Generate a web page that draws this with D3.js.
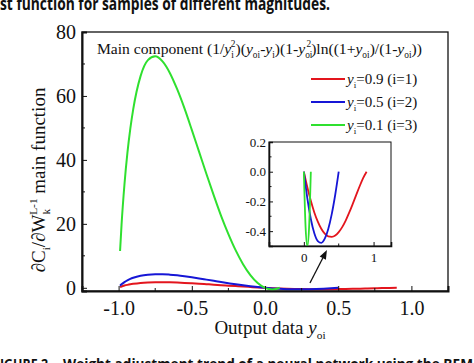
<!DOCTYPE html>
<html>
<head>
<meta charset="UTF-8">
<style>
body { margin: 0; background: #fff; }
svg { display: block; }
text { font-family: "Liberation Serif", "Times New Roman", serif; fill: #111; white-space: pre; }
.cap { font-family: "Open Sans", "Liberation Sans", sans-serif; font-weight: 700; }
</style>
</head>
<body>
<svg width="474" height="363"></svg>
<script src="https://cdn.jsdelivr.net/npm/d3@7/dist/d3.min.js"></script>
<script>
// output data y_oi, negative side (shared by all three curves)
const xNeg = [-0.99, -0.98, -0.96, -0.94, -0.92, -0.9, -0.85, -0.8, -0.75, -0.7, -0.65, -0.6,
  -0.55, -0.5, -0.45, -0.4, -0.35, -0.3, -0.25, -0.2, -0.15, -0.1, -0.05, 0];
const redNeg = [0.25, 0.42, 0.70, 0.92, 1.10, 1.24, 1.51, 1.66, 1.73, 1.75, 1.71, 1.64,
  1.54, 1.42, 1.29, 1.14, 0.99, 0.83, 0.68, 0.53, 0.38, 0.25, 0.12, 0];
const blueNeg = [0.63, 1.08, 1.78, 2.33, 2.77, 3.13, 3.77, 4.11, 4.26, 4.25, 4.12, 3.90,
  3.62, 3.30, 2.94, 2.56, 2.18, 1.80, 1.44, 1.09, 0.77, 0.48, 0.22, 0];
const greenNeg = [11.5, 19.6, 32.3, 42.1, 49.8, 55.9, 66.2, 71.2, 72.4, 70.8, 67.2, 62.1,
  56.1, 49.4, 42.5, 35.6, 28.9, 22.5, 16.8, 11.7, 7.4, 4.0, 1.5, 0];

// positive side, each curve ends at its own y_i
const xRedPos = [0, 0.05, 0.1, 0.15, 0.2, 0.25, 0.3, 0.35, 0.4, 0.45, 0.5, 0.55, 0.6, 0.65, 0.7, 0.75, 0.8, 0.85, 0.9];
const redPos = [0, -0.105, -0.196, -0.274, -0.336, -0.384, -0.417, -0.436, -0.439, -0.430, -0.407, -0.373, -0.329, -0.276, -0.218, -0.158, -0.098, -0.043, 0];
const xBluePos = [0, 0.05, 0.1, 0.15, 0.2, 0.25, 0.3, 0.35, 0.4, 0.45, 0.5];
const bluePos = [0, -0.180, -0.318, -0.414, -0.467, -0.479, -0.451, -0.385, -0.285, -0.155, 0];
const xGreenPos = [0, 0.025, 0.05, 0.075, 0.1];
const greenPos = [0, -0.375, -0.5, -0.375, 0];

const names = ['0.9 (i=1)', '0.5 (i=2)', '0.1 (i=3)'];
const colors = ['#e3151d', '#1616d6', '#2fe02f'];

const xTicks = [-1.0, -0.5, 0.0, 0.5, 1.0];
const xMinor = [-0.75, -0.25, 0.25, 0.75];
const yTicks = [0, 20, 40, 60, 80];
const yMinor = [10, 30, 50, 70];
const inYTicks = [0.2, 0.0, -0.2, -0.4];
const inYMinor = [0.1, -0.1, -0.3];
const inXTicks = [0, 1];
const inXMinor = [0.5];

const svg = d3.select('svg');

const posSeries = [[xRedPos, redPos], [xBluePos, bluePos], [xGreenPos, greenPos]];
const negSeries = [redNeg, blueNeg, greenNeg];
const series = negSeries.map((neg, i) => {
  const pts = xNeg.map((x, j) => ({ x: x, y: neg[j] }));
  posSeries[i][0].forEach((x, j) => { if (j > 0) pts.push({ x: x, y: posSeries[i][1][j] }); });
  return pts;
});
const insetSeries = posSeries.map(p => p[0].map((x, j) => ({ x: x, y: p[1][j] })));

// rich text helper: parts are [string, kind, dx]
function rich(sel, parts, fs) {
  let shift = 0;
  parts.forEach(p => {
    const s = p[0], k = p[1] || 'n';
    let target = 0, size = fs;
    if (k === 'sub') { target = 0.28 * fs; size = 0.6 * fs; }
    if (k === 'sup') { target = -0.42 * fs; size = 0.6 * fs; }
    const t = sel.append('tspan').text(s)
      .attr('dy', (target - shift).toFixed(2))
      .attr('font-size', size);
    if (p[2]) t.attr('dx', p[2]);
    if (k === 'it') t.attr('font-style', 'italic');
    shift = target;
  });
}

// ---- main chart
const x = d3.scaleLinear().domain([-1.25, 1.25]).range([82, 448]);
const y = d3.scaleLinear().domain([-1, 80]).range([291, 32]);

svg.append('rect')
  .attr('x', 82).attr('y', 32).attr('width', 366).attr('height', 259)
  .attr('fill', 'none').attr('stroke', '#111').attr('stroke-width', 1.3);

const line = d3.line().x(d => x(d.x)).y(d => y(d.y)).curve(d3.curveMonotoneX);
series.forEach((s, i) => {
  svg.append('path').datum(s)
    .attr('d', line)
    .attr('fill', 'none')
    .attr('stroke', colors[i])
    .attr('stroke-width', 2);
});

const xAxis = svg.append('g').attr('transform', 'translate(0,291)')
  .call(d3.axisBottom(x).tickValues(xTicks).tickSize(-5).tickPadding(10).tickFormat(d3.format('.1f')));
xAxis.append('g').selectAll('line').data(xMinor).join('line')
  .attr('x1', d => x(d)).attr('x2', d => x(d)).attr('y1', 0).attr('y2', -3).attr('stroke', '#111');
const yAxis = svg.append('g').attr('transform', 'translate(82,0)')
  .call(d3.axisLeft(y).tickValues(yTicks).tickSize(-5).tickPadding(7).tickFormat(d3.format('d')));
yAxis.append('g').selectAll('line').data(yMinor).join('line')
  .attr('y1', d => y(d)).attr('y2', d => y(d)).attr('x1', 0).attr('x2', 3).attr('stroke', '#111');
[xAxis, yAxis].forEach(a => {
  a.select('.domain').attr('stroke', '#111').attr('stroke-width', 2);
  a.selectAll('.tick line').attr('stroke', '#111');
  a.selectAll('text').attr('font-size', 20).attr('font-family', '"Liberation Serif", serif').attr('fill', '#111');
});
xAxis.selectAll('.tick text').text(d => d3.format('.1f')(d).replace('−', '-'));
yAxis.selectAll('.tick text').attr('dx', 1);

// title in frame
const title = svg.append('text').attr('x', 97).attr('y', 54);
rich(title, [['Main component (1/'], ['y', 'it'], ['i', 'sub'], ['2', 'sup', -3], [')('], ['y', 'it'], ['oi', 'sub'], ['-'],
  ['y', 'it'], ['i', 'sub'], [')(1-'], ['y', 'it'], ['oi', 'sub'], ['2', 'sup', -6], [')ln((1+'], ['y', 'it'], ['oi', 'sub'],
  [')/(1-'], ['y', 'it'], ['oi', 'sub'], ['))']], 15.6);

// legend
names.forEach((n, i) => {
  const ly = 79 + i * 23;
  svg.append('line').attr('x1', 311).attr('x2', 345).attr('y1', ly).attr('y2', ly)
    .attr('stroke', colors[i]).attr('stroke-width', 2);
  const t = svg.append('text').attr('x', 347).attr('y', ly + 5);
  rich(t, [['y', 'it'], ['i', 'sub'], ['=' + n]], 15);
});

// axis labels
const xl = svg.append('text').attr('x', 270).attr('y', 334).attr('text-anchor', 'middle');
rich(xl, [['Output data '], ['y', 'it'], ['oi', 'sub']], 19);
const yl = svg.append('text').attr('transform', 'translate(45,180) rotate(-90)').attr('text-anchor', 'middle');
rich(yl, [['\u2202C'], ['i', 'sub'], ['/\u2202W'], ['k', 'sub'], ['L-1', 'sup', -6], [' main function']], 19);

// arrow to inset
const a0 = [x(0.307), y(1.5)], a1 = [x(0.423), y(11.8)];
const ang = Math.atan2(a1[1] - a0[1], a1[0] - a0[0]);
const hl = 9, hw = 3.5;
const base = [a1[0] - hl * Math.cos(ang), a1[1] - hl * Math.sin(ang)];
svg.append('line').attr('x1', a0[0]).attr('y1', a0[1]).attr('x2', base[0]).attr('y2', base[1])
  .attr('stroke', '#111').attr('stroke-width', 1.3);
svg.append('polygon')
  .attr('points', [a1,
    [base[0] + hw * Math.sin(ang), base[1] - hw * Math.cos(ang)],
    [base[0] - hw * Math.sin(ang), base[1] + hw * Math.cos(ang)]].map(p => p.join(',')).join(' '))
  .attr('fill', '#111');

// ---- inset
const ix = d3.scaleLinear().domain([-0.5, 1.25]).range([269, 391]);
const iy = d3.scaleLinear().domain([-0.5, 0.2]).range([246, 142]);
svg.append('rect').attr('x', 269).attr('y', 142).attr('width', 122).attr('height', 104)
  .attr('fill', '#fff').attr('stroke', '#111').attr('stroke-width', 1);
svg.append('clipPath').attr('id', 'inclip').append('rect')
  .attr('x', 269).attr('y', 142).attr('width', 122).attr('height', 104);
const iline = d3.line().x(d => ix(d.x)).y(d => iy(d.y)).curve(d3.curveMonotoneX);
insetSeries.forEach((s, i) => {
  svg.append('path').datum(s)
    .attr('d', iline)
    .attr('clip-path', 'url(#inclip)')
    .attr('fill', 'none')
    .attr('stroke', colors[i])
    .attr('stroke-width', 1.8);
});
const ixAxis = svg.append('g').attr('transform', 'translate(0,246)')
  .call(d3.axisBottom(ix).tickValues(inXTicks).tickSize(-4).tickPadding(7).tickFormat(d3.format('d')));
ixAxis.append('g').selectAll('line').data(inXMinor).join('line')
  .attr('x1', d => ix(d)).attr('x2', d => ix(d)).attr('y1', 0).attr('y2', -2.5).attr('stroke', '#111');
const iyAxis = svg.append('g').attr('transform', 'translate(269,0)')
  .call(d3.axisLeft(iy).tickValues(inYTicks).tickSize(-4).tickPadding(3).tickFormat(d3.format('.1f')));
iyAxis.append('g').selectAll('line').data(inYMinor).join('line')
  .attr('y1', d => iy(d)).attr('y2', d => iy(d)).attr('x1', 0).attr('x2', 2.5).attr('stroke', '#111');
[ixAxis, iyAxis].forEach(a => {
  a.select('.domain').attr('stroke', '#111').attr('stroke-width', 1.6);
  a.selectAll('.tick line').attr('stroke', '#111');
  a.selectAll('text').attr('font-size', 13).attr('font-family', '"Liberation Serif", serif').attr('fill', '#111');
});
iyAxis.selectAll('.tick text').text(d => d3.format('.1f')(d).replace('−', '-')).attr('x', -3);

// ---- cropped page captions
svg.append('text').attr('class', 'cap').attr('x', 0).attr('y', 10)
  .attr('font-size', 18).attr('textLength', 330).attr('lengthAdjust', 'spacingAndGlyphs')
  .text('st function for samples of different magnitudes.');
svg.append('text').attr('class', 'cap').attr('x', 0).attr('y', 369)
  .attr('font-size', 15).attr('fill', '#1b72b8').attr('textLength', 48).attr('lengthAdjust', 'spacingAndGlyphs')
  .text('IGURE 2');
svg.append('text').attr('class', 'cap').attr('x', 63).attr('y', 369)
  .attr('font-size', 15).attr('textLength', 410).attr('lengthAdjust', 'spacingAndGlyphs')
  .text('Weight adjustment trend of a neural network using the BEM');
</script>
</body>
</html>
